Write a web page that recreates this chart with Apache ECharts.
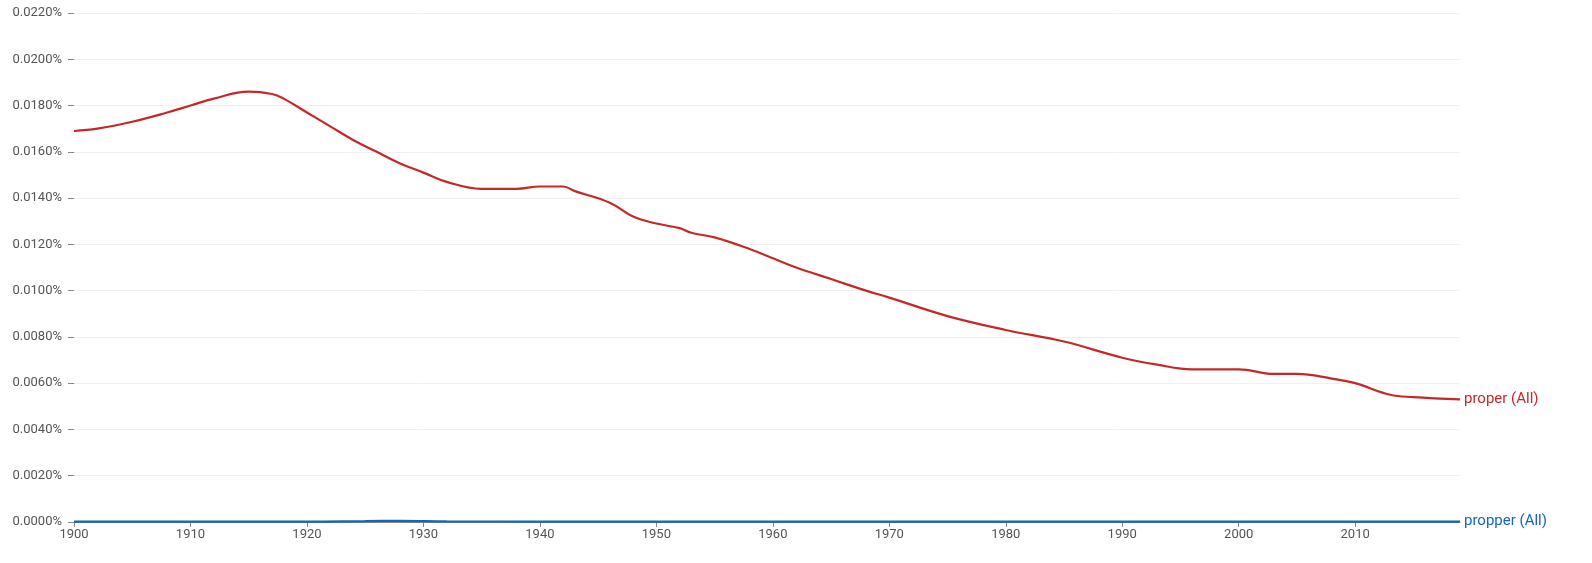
<!DOCTYPE html>
<html>
<head>
  <meta charset="UTF-8" />
  <script src="https://cdn.jsdelivr.net/npm/echarts@6/dist/echarts.min.js"></script>
  <style>
    html, body { margin: 0; height: 100%; background: #fff; }
    #chart { width: 1592px; height: 563px; }
  </style>
</head>
<body>
  <div id="chart"></div>
  <script>
    // values in percent
    const properPts = [
      [1900, 0.0169], [1902, 0.0170], [1905, 0.0173], [1908, 0.0177], [1910, 0.0180],
      [1912, 0.0183], [1915, 0.0186], [1917, 0.0185], [1918, 0.0183], [1920, 0.0177],
      [1922, 0.0171], [1924, 0.0165], [1926, 0.0160], [1928, 0.0155], [1930, 0.0151],
      [1932, 0.0147], [1935, 0.0144], [1938, 0.0144], [1940, 0.0145], [1942, 0.0145],
      [1943, 0.0143], [1946, 0.0138], [1948, 0.0132], [1950, 0.0129], [1952, 0.0127],
      [1953, 0.0125], [1955, 0.0123], [1958, 0.0118], [1960, 0.0114], [1962, 0.0110],
      [1965, 0.0105], [1968, 0.0100], [1970, 0.0097], [1975, 0.0089], [1980, 0.0083],
      [1985, 0.0078], [1990, 0.0071], [1993, 0.0068], [1996, 0.0066], [2000, 0.0066],
      [2003, 0.0064], [2005, 0.0064], [2008, 0.0062], [2010, 0.0060], [2013, 0.0055],
      [2015, 0.0054], [2019, 0.0053]
    ];
    const propperPts = [
      [1900, 0.00002], [1920, 0.00002], [1925, 0.00004], [1928, 0.00005], [1932, 0.00003],
      [1940, 0.00002], [1980, 0.00002], [2019, 0.00002]
    ];

    const chart = echarts.init(document.getElementById('chart'));
    const font = 'Roboto, sans-serif';
    chart.setOption({
      animation: false,
      grid: { left: 74, right: 132, top: 13, bottom: 41 },
      xAxis: {
        type: 'value', min: 1900, max: 2019, interval: 10,
        axisLine: { lineStyle: { color: '#888' } },
        axisTick: { lineStyle: { color: '#888' }, length: 5 },
        axisLabel: { color: '#555', fontSize: 13, fontFamily: font, margin: 6,
          showMaxLabel: false, formatter: v => String(v) },
        splitLine: { show: false }
      },
      yAxis: {
        type: 'value', min: 0, max: 0.022, interval: 0.002,
        axisLine: { show: false },
        axisTick: { show: true, length: 6, lineStyle: { color: '#888' } },
        axisLabel: { color: '#555', fontSize: 13, fontFamily: font, margin: 12,
          formatter: v => v.toFixed(4) + '%' },
        splitLine: { lineStyle: { color: '#f0f0f0' } }
      },
      series: [
        {
          name: 'proper (All)', type: 'line', data: properPts, smooth: 0.4,
          showSymbol: false, lineStyle: { color: '#c62828', width: 2.2 },
          endLabel: { show: true, formatter: '{a}', color: '#c62828', fontSize: 15, fontFamily: font, distance: 4 }
        },
        {
          name: 'propper (All)', type: 'line', data: propperPts, smooth: 0.4,
          showSymbol: false, lineStyle: { color: '#1565c0', width: 2.2 },
          endLabel: { show: true, formatter: '{a}', color: '#1565c0', fontSize: 15, fontFamily: font, distance: 4 }
        }
      ]
    });
  </script>
</body>
</html>
